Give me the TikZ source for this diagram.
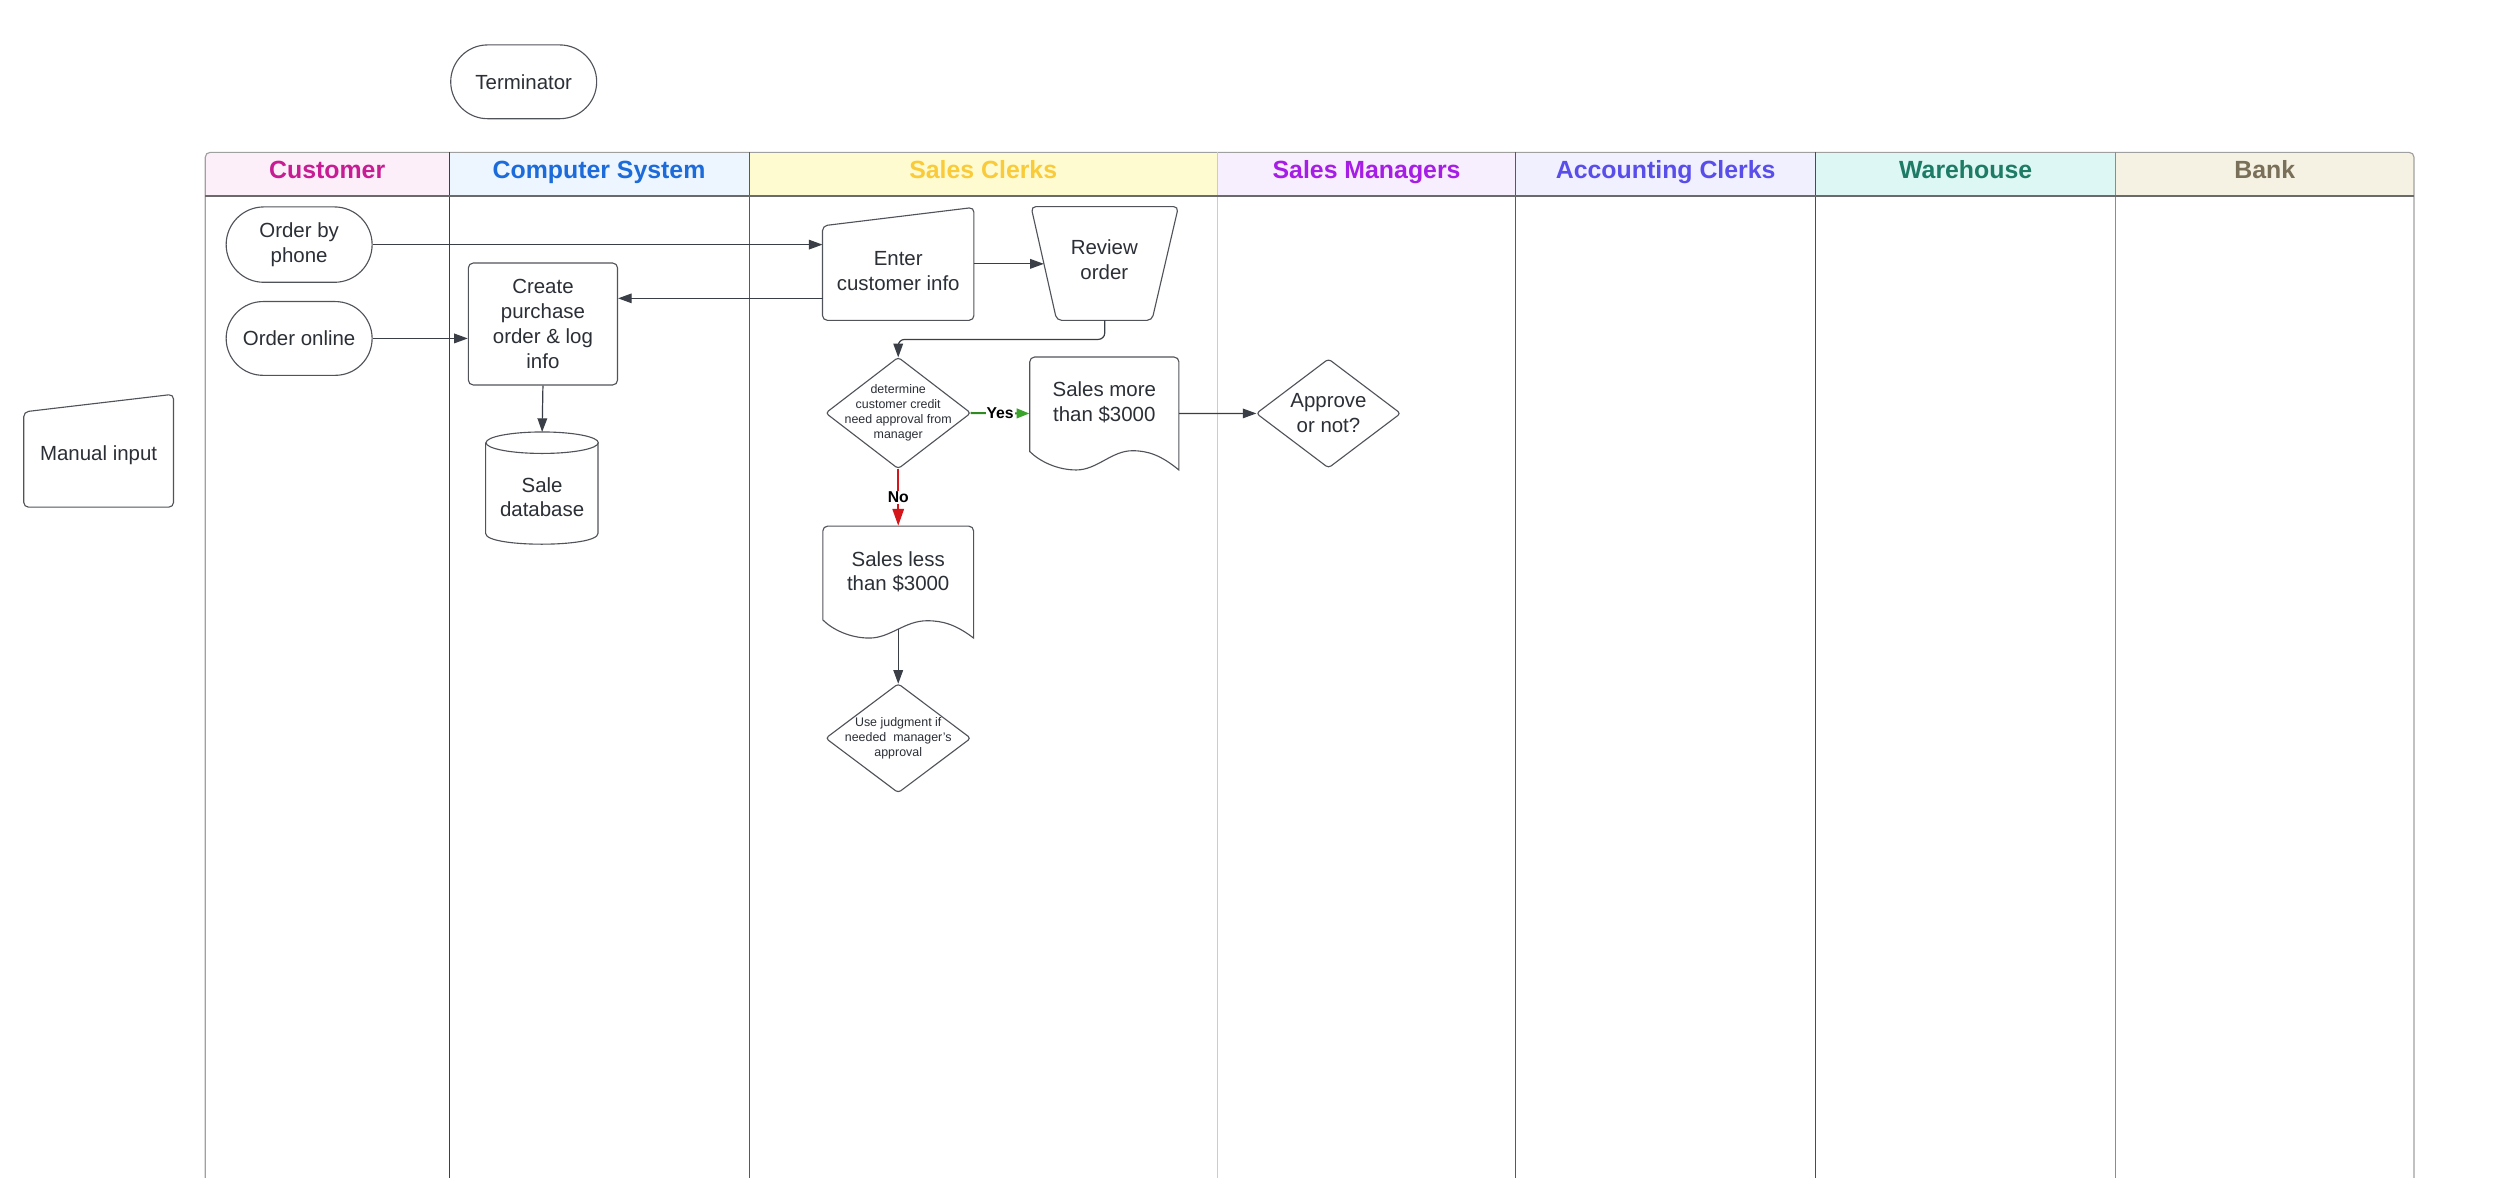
\documentclass[tikz,border=0pt]{standalone}
\usepackage{fontspec}
\setmainfont{Liberation Sans}
\usetikzlibrary{arrows.meta,calc,shapes.misc}
\definecolor{txt}{HTML}{2B2F36}
\definecolor{shpline}{HTML}{50545A}
\definecolor{connc}{HTML}{3A3F47}
\definecolor{frameC}{HTML}{A0A0A0}
\definecolor{hdrline}{HTML}{6A6A6A}
\definecolor{custF}{HTML}{FCEFF9}\definecolor{custT}{HTML}{C71C94}
\definecolor{compF}{HTML}{EDF5FF}\definecolor{compT}{HTML}{1C6BDA}
\definecolor{clerkF}{HTML}{FFFBD0}\definecolor{clerkT}{HTML}{F9CB3A}
\definecolor{mgrF}{HTML}{F7EFFD}\definecolor{mgrT}{HTML}{A61EE6}
\definecolor{accF}{HTML}{F0F0FF}\definecolor{accT}{HTML}{5A4EEA}
\definecolor{wareF}{HTML}{DDF7F4}\definecolor{wareT}{HTML}{1E7B66}
\definecolor{bankF}{HTML}{F5F2E3}\definecolor{bankT}{HTML}{7A6F58}
\definecolor{yesG}{HTML}{2F8A22}
\definecolor{yesH}{HTML}{3AA329}
\definecolor{noR}{HTML}{D4161B}
\begin{document}
\begin{tikzpicture}[x=1pt,y=-1pt,
  font=\fontsize{12.75}{15.5}\selectfont, text=txt,
  shp/.style={draw=shpline, line width=0.7pt},
  stadium/.style={shp, rounded rectangle, minimum width=93pt, inner sep=1pt, align=center},
  rbox/.style={shp, rounded corners=3pt, align=center, inner sep=1pt},
  area/.style={inner sep=0pt, align=center},
  hdr/.style={inner sep=0pt, minimum height=27pt, font=\fontsize{15.5}{18}\selectfont\bfseries, text height=11pt, text depth=5pt},
  small/.style={font=\fontsize{7.75}{9.35}\selectfont},
  conn/.style={draw=connc, line width=0.75pt, -{Triangle[length=8.5pt,width=6pt]}},
  lbl/.style={font=\fontsize{9.8}{11}\selectfont\bfseries, text=black, fill=white, inner sep=0.6pt},
  lane/.style={line width=0.55pt},
]
\useasboundingbox (0,0) rectangle (1568,734.4);
\fill[white] (0,0) rectangle (1568,734.4);

% ---------- lane headers ----------
\fill[custF] (128,122) -- (128,98) .. controls (128,96.3) and (129.3,95) .. (131,95) -- (280,95) -- (280,122) -- cycle;
\fill[compF] (280,95) rectangle (467,122);
\fill[clerkF] (467,95) rectangle (759,122);
\fill[mgrF] (759,95) rectangle (945,122);
\fill[accF] (945,95) rectangle (1132,122);
\fill[wareF] (1132,95) rectangle (1319,122);
\fill[bankF] (1319,95) -- (1502,95) .. controls (1503.7,95) and (1505,96.3) .. (1505,98) -- (1505,122) -- (1319,122) -- cycle;

\node[hdr, minimum width=152pt, text=custT] (hCust) at (204,108.5) {Customer};
\node[hdr, minimum width=187pt, text=compT] (hComp) at (373.5,108.5) {Computer System};
\node[hdr, minimum width=292pt, text=clerkT] (hClerk) at (613,108.5) {Sales Clerks};
\node[hdr, minimum width=186pt, text=mgrT] (hMgr) at (852,108.5) {Sales Managers};
\node[hdr, minimum width=187pt, text=accT] (hAcc) at (1038.5,108.5) {Accounting Clerks};
\node[hdr, minimum width=187pt, text=wareT] (hWare) at (1225.5,108.5) {Warehouse};
\node[hdr, minimum width=186pt, text=bankT] (hBank) at (1412,108.5) {Bank};

% ---------- lane frame ----------
\draw[draw=frameC, line width=0.7pt] (128,740) -- (128,98) .. controls (128,96.3) and (129.3,95) .. (131,95) -- (1502,95) .. controls (1503.7,95) and (1505,96.3) .. (1505,98) -- (1505,740);
\draw[lane, draw=black!75] (280,95) -- (280,740);
\draw[lane, draw=black!65] (467,95) -- (467,740);
\draw[lane, draw=black!20] (759,95) -- (759,740);
\draw[lane, draw=black!65] (945,95) -- (945,740);
\draw[lane, draw=black!70] (1132,95) -- (1132,740);
\draw[lane, draw=black!45] (1319,95) -- (1319,740);
\draw[draw=hdrline, line width=1.2pt] (128,122) -- (1505,122);

% ---------- free shapes ----------
\node[stadium, minimum height=46pt] (term) at (326.5,51) {Terminator};

\node[area, minimum width=93pt, minimum height=70pt] (mi) at (61.5,281) {};
\draw[shp, rounded corners=3pt] ([yshift=-11pt]mi.north west) -- (mi.north east) -- (mi.south east) -- (mi.south west) -- cycle;
\node[area] (miT) at (61.5,284) {Manual input};

% ---------- customer lane ----------
\node[stadium, minimum height=47pt] (phone) at (186.5,152.5) {Order by\\phone};
\node[stadium, minimum height=46pt] (online) at (186.5,211) {Order online};

% ---------- computer system lane ----------
\node[rbox, minimum width=93pt, minimum height=76pt] (create) at (338.5,202) {Create\\purchase\\order \& log\\info};

\node[area, minimum width=70pt, minimum height=70pt] (db) at (338,304.5) {};
\draw[shp, fill=white] (db.north west) ++(0,6.7) -- ++(0,56.6) .. controls ++(0,8.9) and ++(0,8.9) .. ++(70,0) -- ++(0,-56.6);
\draw[shp, fill=white] ($(db.north)+(0,6.7)$) ellipse [x radius=35, y radius=6.7];
\node[area] (dbT) at (338,310) {Sale\\database};

% ---------- sales clerks lane ----------
\node[area, minimum width=94pt, minimum height=70pt] (enter) at (560,164.5) {};
\draw[shp, rounded corners=3pt] ([yshift=-11.5pt]enter.north west) -- (enter.north east) -- (enter.south east) -- (enter.south west) -- cycle;
\node[area] (enterT) at (560,169) {Enter\\customer info};

\node[area, minimum width=91.5pt, minimum height=70.5pt] (review) at (688.75,164.25) {};
\draw[shp, rounded corners=3pt] (review.north west) -- (review.north east) -- ([xshift=-16.5pt]review.south east) -- ([xshift=16pt]review.south west) -- cycle;
\node[area] (reviewT) at (688.5,162) {Review\\order};

\node[area, small, minimum width=90pt, minimum height=69pt] (credit) at (560,257.5) {determine\\customer credit\\need approval from\\manager};
\draw[shp, rounded corners=2pt] (credit.north) -- (credit.east) -- (credit.south) -- (credit.west) -- cycle;

\node[area, minimum width=93pt, minimum height=70.4pt] (more) at (688.5,257.8) {};
\draw[shp] (642,281.5) [rounded corners=3pt] -- (642,222.6) -- (735,222.6) [sharp corners] -- (735,293)
  .. controls (724,284) and (716,281) .. (706,281)
  .. controls (693,281) and (684,293) .. (671,293)
  .. controls (659,293) and (648,287.5) .. (642,281.5) -- cycle;
\node[area] (moreT) at (688.5,251) {Sales more\\than \$3000};

\node[area, minimum width=94pt, minimum height=70pt] (less) at (560,363) {};
\draw[shp] (513,386.5) [rounded corners=3pt] -- (513,328) -- (607,328) [sharp corners] -- (607,397.8)
  .. controls (596,389.5) and (588,387) .. (578,387)
  .. controls (564,387) and (555,397.8) .. (542,397.8)
  .. controls (530,397.8) and (519,392.5) .. (513,386.5) -- cycle;
\node[area] (lessT) at (560,356.5) {Sales less\\than \$3000};

\node[area, small, minimum width=90pt, minimum height=67.5pt] (judge) at (560,460.25) {Use judgment if\\needed\ \ manager’s\\approval};
\draw[shp, rounded corners=2pt] (judge.north) -- (judge.east) -- (judge.south) -- (judge.west) -- cycle;

% ---------- sales managers lane ----------
\node[area, minimum width=89.5pt, minimum height=67.5pt] (approve) at (828.25,257.75) {Approve\\or not?};
\draw[shp, rounded corners=2pt] (approve.north) -- (approve.east) -- (approve.south) -- (approve.west) -- cycle;

% ---------- connectors ----------
\draw[conn] (phone.east) -- (phone.east -| enter.west);
\coordinate (e2) at ([yshift=-21.5pt]enter.west);
\draw[conn] (e2) -- (e2 -| create.east);
\draw[conn] (online.east) -- (online.east -| create.west);
\draw[conn] (create.south) -- (db.north);
\coordinate (rv) at ($(review.west |- enter.east)+(8,0)$);
\draw[conn] (enter.east) -- (rv);
\draw[conn, rounded corners=4pt] (review.south) -- ++(0,11.9) -| (credit.north);
\draw[draw=yesG, line width=1.3pt, -{Triangle[length=8pt,width=6pt,color=yesH]}] (credit.east) -- node[lbl] (yesL) {Yes} (more.west);
\draw[draw=noR, line width=1.5pt, -{Triangle[length=10.5pt,width=7pt]}] (credit.south) -- node[lbl] (noL) {No} (less.north);
\coordinate (lb) at ([yshift=6pt]less.south);
\draw[conn] (lb) -- (judge.north);
\draw[conn] (more.east) -- (approve.west);
\end{tikzpicture}
\end{document}
